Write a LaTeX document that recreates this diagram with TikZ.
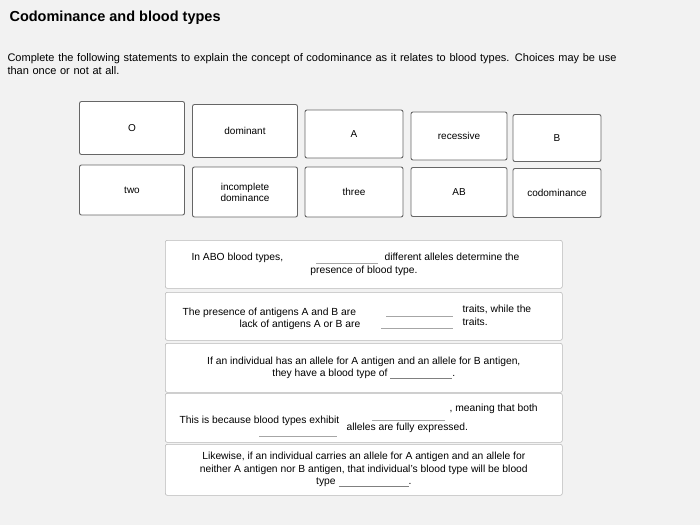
\documentclass[tikz,border=0pt]{standalone}
\usepackage{fontspec}
\setmainfont{Liberation Sans}
\begin{document}
\begin{tikzpicture}[x=1pt,y=-1pt,
  choice/.style={draw=gray!80!black,line width=0.9pt,rounded corners=2pt,fill=white,font=\fontsize{10}{11}\selectfont,align=center},
  stmt/.style={draw=gray!55,line width=0.6pt,rounded corners=2pt,fill=white,minimum width=397pt,anchor=north west,font=\fontsize{10.3}{12.5}\selectfont,align=center},
  txt/.style={anchor=west,font=\fontsize{10.3}{12}\selectfont},
  blank/.style={draw=gray!70,line width=0.5pt}]
\useasboundingbox (0,0) rectangle (700,525);
\fill[gray!10] (0,0) rectangle (700,525);
\node[anchor=west,font=\bfseries\fontsize{14.5}{16}\selectfont] (title) at (6,18) {Codominance and blood types};
\node[anchor=north west,align=left,font=\fontsize{11}{12.5}\selectfont,text width=720pt] (intro) at (4,50) {Complete the following statements to explain the concept of codominance as it relates to blood types. Choices may be use\\than once or not at all.};
% row 1
\node[choice,minimum width=105pt,minimum height=53pt] (o) at (132,128) {O};
\node[choice,minimum width=105pt,minimum height=53pt] (dom) at (245,131) {dominant};
\node[choice,minimum width=98pt,minimum height=48pt] (a) at (354,134) {A};
\node[choice,minimum width=96pt,minimum height=48pt] (rec) at (459,136) {recessive};
\node[choice,minimum width=88pt,minimum height=47pt] (b) at (557,138) {B};
% row 2
\node[choice,minimum width=105pt,minimum height=50pt] (two) at (132,190) {two};
\node[choice,minimum width=105pt,minimum height=50pt] (inc) at (245,192) {incomplete\\dominance};
\node[choice,minimum width=98pt,minimum height=50pt] (three) at (354,192) {three};
\node[choice,minimum width=96pt,minimum height=49pt] (ab) at (459,192) {AB};
\node[choice,minimum width=88pt,minimum height=49pt] (cod) at (557,193) {codominance};
% statements
\node[stmt,minimum height=48pt] (s1) at (165,240) {};
\node[txt] (s1a) at (188,258) {In ABO blood types,};
\draw[blank] (316,263) -- (378,263);
\node[txt] (s1b) at (381,257) {different alleles determine the};
\node[font=\fontsize{10.3}{12}\selectfont] (s1c) at (364,271) {presence of blood type.};
\node[stmt,minimum height=48pt] (s2) at (165,292) {};
\node[txt] (s2a) at (179,313) {The presence of antigens A and B are};
\node[txt] (s2b) at (236,325) {lack of antigens A or B are};
\draw[blank] (386,316) -- (453,316);
\draw[blank] (381,328) -- (453,328);
\node[txt] (s2c) at (459,309) {traits, while the};
\node[txt] (s2d) at (459,322) {traits.};
\node[stmt,minimum height=49pt] (s3) at (165,343) {If an individual has an allele for A antigen and an allele for B antigen,\\they have a blood type of \textcolor{gray}{\rule[-2pt]{62pt}{0.5pt}}.};
\node[stmt,minimum height=49pt] (s4) at (165,393) {};
\node[txt] (s4a) at (176,421) {This is because blood types exhibit};
\draw[blank] (372,420) -- (445,420);
\node[txt] (s4b) at (446,409) {, meaning that both};
\draw[blank] (259,436) -- (337,436);
\node[txt] (s4c) at (343,428) {alleles are fully expressed.};
\node[stmt,minimum height=51pt] (s5) at (165,444) {Likewise, if an individual carries an allele for A antigen and an allele for\\neither A antigen nor B antigen, that individual's blood type will be blood\\type \textcolor{gray}{\rule[-2pt]{70pt}{0.5pt}}.};
\end{tikzpicture}
\end{document}
